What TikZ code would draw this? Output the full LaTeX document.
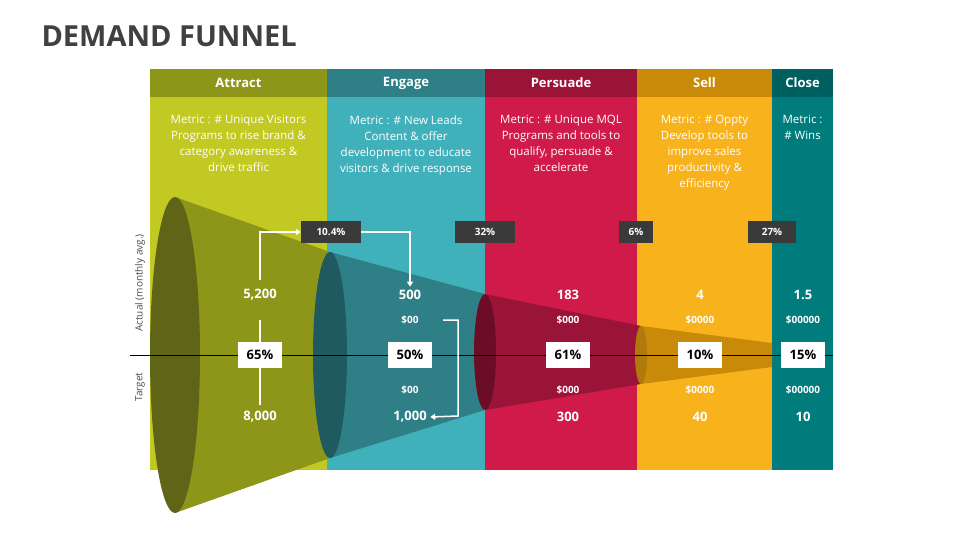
\documentclass[tikz,border=0pt]{standalone}
\usepackage{fontspec}
\setmainfont{Open Sans}
\usetikzlibrary{arrows.meta}
\definecolor{aH}{HTML}{8E961A}\definecolor{aB}{HTML}{C2C923}
\definecolor{eH}{HTML}{2E8086}\definecolor{eB}{HTML}{40B0BA}
\definecolor{pH}{HTML}{9A1438}\definecolor{pB}{HTML}{D01A4A}
\definecolor{sH}{HTML}{C98A0A}\definecolor{sB}{HTML}{F7B21C}
\definecolor{cH}{HTML}{00605F}\definecolor{cB}{HTML}{007C7C}
\definecolor{aE}{HTML}{5F6416}\definecolor{eE}{HTML}{1F5A60}
\definecolor{pE}{HTML}{6B0E25}\definecolor{sE}{HTML}{B07A0A}
\definecolor{dbox}{HTML}{3A3A3A}
\begin{document}
\begin{tikzpicture}[x=1pt,y=-1pt,
 hdr/.style={text=white,font=\bfseries\fontsize{13}{15}\selectfont},
 body/.style={text=white,font=\fontsize{11.5}{16}\selectfont,align=center},
 big/.style={text=white,font=\bfseries\fontsize{13}{15}\selectfont},
 small/.style={text=white,font=\bfseries\fontsize{10}{12}\selectfont},
 dark/.style={fill=dbox,text=white,font=\bfseries\fontsize{10}{12}\selectfont,minimum width=60pt,minimum height=22pt,inner sep=0pt},
 wbox/.style={fill=white,text=black,font=\bfseries\fontsize{13}{15}\selectfont,minimum width=44pt,minimum height=26pt,inner sep=0pt},
 wl/.style={white,line width=1.5pt},
 arr/.style={wl,-{Triangle[length=5pt,width=6pt]}}]
\useasboundingbox (0,0) rectangle (960,540);
\fill[white] (0,0) rectangle (960,540);
\node[anchor=west,text=black!75,font=\bfseries\fontsize{29}{32}\selectfont] (title) at (38,36) {DEMAND FUNNEL};
% columns
\fill[aH] (150,69) rectangle (327,97); \fill[aB] (150,97) rectangle (327,470);
\fill[eH] (327,69) rectangle (485,97); \fill[eB] (327,97) rectangle (485,470);
\fill[pH] (485,69) rectangle (637,97); \fill[pB] (485,97) rectangle (637,470);
\fill[sH] (637,69) rectangle (772,97); \fill[sB] (637,97) rectangle (772,470);
\fill[cH] (772,69) rectangle (833,97); \fill[cB] (772,97) rectangle (833,470);
\node[hdr] (h1) at (238.5,83) {Attract};
\node[hdr] (h2) at (406,83) {Engage};
\node[hdr] (h3) at (561,83) {Persuade};
\node[hdr] (h4) at (704.5,83) {Sell};
\node[hdr] (h5) at (802.5,83) {Close};
\node[body,anchor=north] (b1) at (238.5,112) {Metric : \# Unique Visitors\\Programs to rise brand \&\\category awareness \&\\drive traffic};
\node[body,anchor=north] (b2) at (406,112) {Metric : \# New Leads\\Content \& offer\\development to educate\\visitors \& drive response};
\node[body,anchor=north] (b3) at (561,112) {Metric : \# Unique MQL\\Programs and tools to\\qualify, persuade \&\\accelerate};
\node[body,anchor=north] (b4) at (704.5,112) {Metric : \# Oppty\\Develop tools to\\improve sales\\productivity \&\\efficiency};
\node[body,anchor=north] (b5) at (802.5,112) {Metric :\\\# Wins};
% funnel
\fill[aH] (175,197) -- (330,252) -- (330,458) -- (175,513) -- cycle;
\fill[aE] (175,355) ellipse [x radius=25,y radius=158];
\fill[eH] (330,252) -- (485,294) -- (485,410) -- (330,458) -- cycle;
\fill[eE] (330,355) ellipse [x radius=17,y radius=103];
\fill[pH] (485,294) -- (641,326) -- (641,384) -- (485,410) -- cycle;
\fill[pE] (485,352) ellipse [x radius=11,y radius=58];
\fill[sH] (641,326) -- (772,343) -- (772,367) -- (641,384) -- cycle;
\fill[sE] (641,355) ellipse [x radius=6,y radius=29];
\draw[black,line width=0.6pt] (130,355) -- (833,355);
\node[rotate=90,text=black!70,font=\fontsize{10}{12}\selectfont] (act) at (140,283) {Actual (monthly avg.)};
\node[rotate=90,text=black!70,font=\fontsize{10}{12}\selectfont] (tgt) at (140,387) {Target};
% dark boxes
\node[dark] (d1) at (331,232) {10.4\%};
\node[dark] (d2) at (485,232) {32\%};
\node[dark,minimum width=34pt] (d3) at (636,232) {6\%};
\node[dark,minimum width=48pt] (d4) at (772,232) {27\%};
% values
\node[big] (top1) at (260,295) {5,200};
\node[big] (bot1) at (260,417) {8,000};
\foreach \x/\a/\b/\c/\d/\n in {410/500/\$00/\$00/{1,000}/2, 568/183/\$000/\$000/300/3, 700/4/\$0000/\$0000/40/4, 803/1.5/\$00000/\$00000/10/5}{
 \node[big] (top\n) at (\x,295) {\a};
 \node[small] (s\n) at (\x,320) {\b};
 \node[small] (t\n) at (\x,390) {\c};
 \node[big] (bot\n) at (\x,417) {\d};
}
\node[wbox] (w1) at (260,355) {65\%};
\node[wbox] (w2) at (410,355) {50\%};
\node[wbox] (w3) at (568,355) {61\%};
\node[wbox] (w4) at (700,355) {10\%};
\node[wbox] (w5) at (803,355) {15\%};
% arrows
\coordinate (u1) at (260,280); \coordinate (u2) at (260,232);
\coordinate (v1) at (410,232);
\draw[arr] (u1) -- (u2) -- (d1.west);
\draw[arr] (d1.east) -- (v1) -- (top2.north);
\coordinate (l1) at (260,320); \coordinate (l2) at (260,405);
\draw[wl] (l1) -- (w1.north);
\draw[wl] (w1.south) -- (l2);
\coordinate (q0) at (443,320); \coordinate (r1) at (458,320); \coordinate (r2) at (458,416);
\draw[arr] (q0) -- (r1) -- (r2) -- (bot2.east);
\end{tikzpicture}
\end{document}
